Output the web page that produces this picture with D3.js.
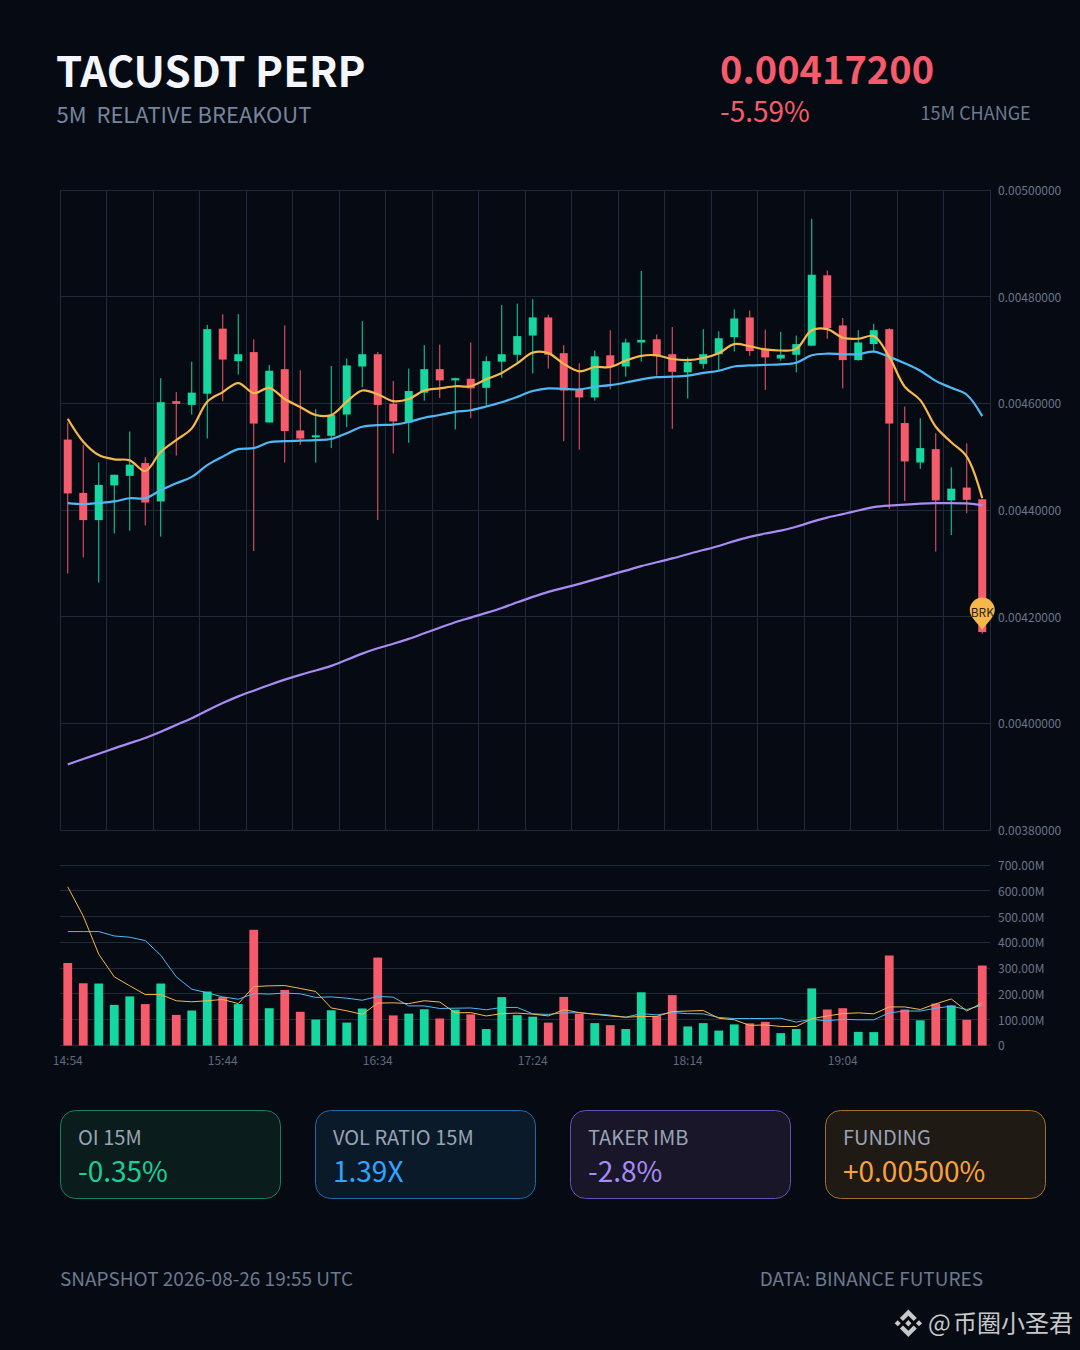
<!DOCTYPE html>
<html lang="zh">
<head>
<meta charset="utf-8">
<title>TACUSDT PERP</title>
<script src="https://cdn.jsdelivr.net/npm/d3@7/dist/d3.min.js"></script>
<style>
html,body{margin:0;padding:0;background:#060a12;}
svg{display:block;}
text{font-family:"Noto Sans CJK SC","Noto Sans",sans-serif;}
</style>
</head>
<body>
<svg id="chart" width="1080" height="1350" viewBox="0 0 1080 1350"></svg>
<script>
// Prices are in units of 0.00001
const times = ["14:54","14:59","15:04","15:09","15:14","15:19","15:24","15:29","15:34","15:39",
"15:44","15:49","15:54","15:59","16:04","16:09","16:14","16:19","16:24","16:29",
"16:34","16:39","16:44","16:49","16:54","16:59","17:04","17:09","17:14","17:19",
"17:24","17:29","17:34","17:39","17:44","17:49","17:54","17:59","18:04","18:09",
"18:14","18:19","18:24","18:29","18:34","18:39","18:44","18:49","18:54","18:59",
"19:04","19:09","19:14","19:19","19:24","19:29","19:34","19:39","19:44","19:49"];
const timeLabels = ["14:54","15:44","16:34","17:24","18:14","19:04"];
const opens = [453.3,443.3,438.2,444.7,446.5,448.9,441.7,460.5,459.8,461.9,474.1,468.0,469.7,456.5,466.5,455.0,453.7,454.0,458.0,467.0,
469.3,460.0,456.5,462.1,466.5,464.4,464.7,463.0,467.9,469.2,472.8,476.2,469.5,462.6,461.2,469.1,467.0,471.5,472.1,469.3,
465.9,467.5,469.3,472.5,476.2,470.2,468.5,469.2,470.9,484.1,474.7,468.2,471.2,474.0,456.4,449.0,451.5,441.9,444.3,442.1];
const closes = [443.2,438.2,444.8,446.7,448.6,441.5,460.3,460.0,462.1,474.0,468.3,469.3,456.3,466.2,454.9,453.5,454.1,457.9,467.2,469.3,
459.8,456.7,462.4,466.5,464.4,464.8,462.9,468.0,469.3,472.7,476.2,469.2,462.5,461.2,468.9,466.9,471.5,472.0,469.0,466.0,
467.8,469.3,472.3,476.0,469.9,468.7,469.2,471.2,484.2,474.2,468.2,471.5,473.8,456.3,449.2,451.7,441.9,444.1,442.0,417.2];
const highs = [456.5,452.3,449.0,446.7,454.8,450.0,464.8,462.2,467.9,474.8,476.8,476.8,472.1,467.3,474.7,466.3,459.0,467.1,468.5,475.5,
469.7,464.3,466.6,471.0,471.1,464.9,471.5,468.9,478.5,478.8,479.6,476.7,471.0,467.6,470.0,473.8,472.2,484.9,473.0,474.4,
468.7,474.0,473.6,477.7,477.5,473.9,473.5,472.8,494.7,485.0,476.1,473.8,475.0,474.2,459.5,457.3,454.5,448.1,452.6,442.1];
const lows = [428.2,431.2,426.5,435.7,436.2,437.2,435.1,450.3,458.0,453.5,460.5,465.5,432.4,456.5,449.0,452.3,449.0,451.7,455.6,463.1,
438.2,450.7,452.7,460.6,461.1,455.2,457.3,459.6,464.9,467.6,465.7,466.6,453.0,451.4,460.6,462.7,465.1,467.9,465.3,455.3,
461.0,466.6,466.3,469.8,469.0,462.6,468.1,465.9,470.9,472.2,462.9,468.1,469.8,440.3,441.8,447.8,432.3,435.4,439.5,416.9];
const maFast = [457.2,452.9,450.4,449.6,449.4,447.4,451.0,453.2,455.4,460.4,462.2,463.9,462.0,463.0,460.9,459.4,457.9,457.9,460.4,462.5,
461.8,460.5,460.9,462.5,462.9,463.3,463.3,464.6,465.8,467.6,469.6,469.5,467.5,466.1,466.9,466.9,468.1,469.0,469.1,468.4,
468.2,468.6,469.5,471.2,470.8,470.2,470.0,470.3,473.8,474.0,472.4,472.2,472.7,468.8,463.2,460.7,455.7,452.8,450.1,442.3];
const maMid = [441.4,441.2,441.4,441.7,442.3,442.3,443.8,445.1,446.3,448.5,450.1,451.5,451.7,452.8,453.0,453.1,453.2,453.4,454.5,455.7,
456.0,456.1,456.6,457.4,457.9,458.5,458.8,459.5,460.3,461.3,462.4,462.9,462.8,462.7,463.2,463.5,464.0,464.6,465.0,465.1,
465.3,465.8,466.2,467.0,467.2,467.3,467.4,467.7,469.1,469.4,469.3,469.3,469.8,468.8,467.6,466.2,464.3,463.0,461.7,457.7];
const maSlow = [392.4,393.4,394.4,395.4,396.4,397.3,398.5,399.8,401.0,402.5,403.9,405.2,406.2,407.3,408.3,409.2,410.0,410.8,412.0,413.2,
414.2,415.0,415.9,417.0,418.0,419.1,419.9,420.8,421.7,422.8,423.8,424.8,425.5,426.2,427.1,427.9,428.7,429.6,430.3,431.0,
431.8,432.6,433.3,434.3,435.1,435.7,436.2,436.9,437.9,438.7,439.3,440.0,440.7,440.9,441.1,441.3,441.4,441.4,441.4,441.0];
const volumes = [321,242,241,158,191,161,241,119,136,210,189,161,450,145,216,131,101,137,89,144,
342,117,124,141,105,139,121,64,188,118,112,89,189,123,87,79,64,207,114,196,
74,87,58,82,86,92,48,64,222,140,145,53,52,350,140,98,163,156,100,311];
const volFast = [617,503,355,267,232,198,198,174,170,174,179,163,229,232,233,222,210,146,135,121,
165,166,163,174,169,127,128,115,124,126,122,115,139,128,121,115,110,113,113,132,
134,136,106,100,78,80,74,74,104,115,124,127,123,150,150,140,162,181,134,166];
const volSlow = [443,443,443,426,421,408,351,267,219,205,189,180,202,200,204,201,187,189,184,176,
191,188,154,154,144,145,146,139,148,148,123,121,127,127,123,118,110,124,119,128,
124,123,109,105,105,105,106,91,102,96,102,100,100,127,134,134,145,153,140,157];
const priceTicks = [380,400,420,440,460,480,500];
const volTicks = [0,100,200,300,400,500,600,700];
const cards = [
  {label:"OI 15M", value:"-0.35%", fill:"#0b1c1c", stroke:"#14805f", color:"#17d09a"},
  {label:"VOL RATIO 15M", value:"1.39X", fill:"#0a1a29", stroke:"#1f6aa3", color:"#2ea6ff"},
  {label:"TAKER IMB", value:"-2.8%", fill:"#181628", stroke:"#6a4fb3", color:"#a78bfa"},
  {label:"FUNDING", value:"+0.00500%", fill:"#1f1a14", stroke:"#a3702a", color:"#f9a23b"}
];

const RED="#f55b6b", GREEN="#15d8a0", GRID="#1f2a3a", AMBER="#f6b84a", SKY="#4fb9f7", VIOLET="#a98bf3";
const svg=d3.select("#chart");
svg.append("rect").attr("width",1080).attr("height",1350).attr("fill","#060a12");

const crisp=v=>Math.floor(v)+0.5;
const L=60,R=990;
const x=d3.scaleBand().domain(d3.range(times.length)).range([L,R]).padding(0);
const cx=i=>x(i)+x.bandwidth()/2;
const y=d3.scaleLinear().domain([380,500]).range([830.5,190.5]);
const yv=d3.scaleLinear().domain([0,700]).range([1045.5,865.5]);

// price grid
const g=svg.append("g");
const vLines=d3.range(0,times.length,3).map(i=>x(i)).concat([R]);
g.selectAll("line.v").data(vLines).join("line").attr("class","v")
 .attr("x1",d=>crisp(d)).attr("x2",d=>crisp(d)).attr("y1",crisp(y(500)-0.5)).attr("y2",crisp(y(380)-0.5))
 .attr("stroke",GRID);
const axisP=d3.axisRight(y).tickValues(priceTicks).tickSize(0).tickPadding(8)
 .tickFormat(d=>(d*1e-5).toFixed(8));
const pa=svg.append("g").attr("transform",`translate(${R},0)`).call(axisP);
pa.select(".domain").remove();
pa.selectAll("text").attr("fill","#69758a").attr("font-size",12);
g.selectAll("line.h").data(priceTicks).join("line").attr("class","h")
 .attr("x1",L).attr("x2",R+1).attr("y1",d=>crisp(y(d)-0.5)).attr("y2",d=>crisp(y(d)-0.5)).attr("stroke",GRID);

// candles
const idx=d3.range(times.length);
const candle=svg.append("g");
const col=i=>closes[i]>=opens[i]?GREEN:RED;
candle.selectAll("line").data(idx).join("line")
 .attr("x1",cx).attr("x2",cx).attr("y1",i=>y(highs[i])).attr("y2",i=>y(lows[i]))
 .attr("stroke",col).attr("stroke-width",1);
candle.selectAll("rect").data(idx).join("rect")
 .attr("x",i=>cx(i)-4).attr("width",8)
 .attr("y",i=>y(Math.max(opens[i],closes[i])))
 .attr("height",i=>Math.max(2,Math.abs(y(opens[i])-y(closes[i]))))
 .attr("fill",col);

// moving averages
const lineP=d3.line().x((d,i)=>cx(i)).y(d=>y(d)).curve(d3.curveCatmullRom.alpha(0.5));
const lineS=d3.line().x((d,i)=>cx(i)).y(d=>y(d)).curve(d3.curveBasis);
[[maSlow,VIOLET,lineS],[maMid,SKY,lineP],[maFast,AMBER,lineP]].forEach(([s,c,l])=>{
  svg.append("path").attr("d",l(s)).attr("fill","none").attr("stroke",c).attr("stroke-width",2.2);
});

// breakout pin
const px=cx(59), py=y(lows[59])-3.7;
const pin=svg.append("g").attr("transform",`translate(${px},${py})`);
pin.append("path").attr("fill",AMBER)
 .attr("d","M0,0C-3,-6 -12.5,-12 -12.5,-20A12.5,12.5 0 1 1 12.5,-20C12.5,-12 3,-6 0,0Z");
pin.append("text").attr("y",-13.5).attr("text-anchor","middle").attr("font-size",12).attr("fill","#2a2418").text("BRK");

// volume grid & axis
const vg=svg.append("g");
vg.selectAll("line").data(volTicks).join("line")
 .attr("x1",L).attr("x2",R).attr("y1",d=>crisp(yv(d)-0.3)).attr("y2",d=>crisp(yv(d)-0.3)).attr("stroke",GRID);
const axisV=d3.axisRight(yv).tickValues(volTicks).tickSize(0).tickPadding(8)
 .tickFormat(d=>d===0?"0":d.toFixed(2)+"M");
const va=svg.append("g").attr("transform",`translate(${R},0.5)`).call(axisV);
va.select(".domain").remove();
va.selectAll("text").attr("fill","#69758a").attr("font-size",12);

svg.append("g").selectAll("rect").data(idx).join("rect")
 .attr("x",i=>cx(i)-4.4).attr("width",8.8)
 .attr("y",i=>yv(volumes[i])).attr("height",i=>yv(0)-yv(volumes[i]))
 .attr("fill",col);
const lineV=d3.line().x((d,i)=>cx(i)).y(d=>yv(d));
[[volSlow,SKY],[volFast,AMBER]].forEach(([s,c])=>{
  svg.append("path").attr("d",lineV(s)).attr("fill","none").attr("stroke",c).attr("stroke-width",1);
});

// time axis
const axisT=d3.axisBottom(x).tickValues(timeLabels.map(t=>times.indexOf(t))).tickSize(0).tickPadding(11)
 .tickFormat(i=>times[i]);
const ta=svg.append("g").attr("transform","translate(0,1045.5)").call(axisT);
ta.select(".domain").remove();
ta.selectAll("text").attr("fill","#5f6b7e").attr("font-size",12);

// header
function label(t,xp,yp,size,fill,opts={}){
  const n=svg.append("text").attr("x",xp).attr("y",yp).attr("font-size",size).attr("fill",fill).attr("xml:space","preserve").style("white-space","pre").text(t);
  if(opts.weight)n.attr("font-weight",opts.weight);
  if(opts.anchor)n.attr("text-anchor",opts.anchor);
  return n;
}
label("TACUSDT PERP",56,87,42,"#f3f6fc",{weight:700});
label("5M  RELATIVE BREAKOUT",56.5,123,22,"#76859d");
label("0.00417200",720,84,38,RED,{weight:700});
label("-5.59%",720,122,28,RED);
label("15M CHANGE",920.5,120,18,"#6c7b91");

// cards
const cardX=d3.scalePoint().domain(d3.range(cards.length)).range([60,825]);
cards.forEach((c,i)=>{
  const X=cardX(i);
  svg.append("rect").attr("x",X+0.5).attr("y",1110.5).attr("width",220).attr("height",88).attr("rx",15)
   .attr("fill",c.fill).attr("stroke",c.stroke);
  label(c.label,X+18,1145,20,"#9aa3b5");
  label(c.value,X+18,1182,28,c.color);
});

// footer
label("SNAPSHOT 2026-08-26 19:55 UTC",60,1286,19,"#6c7a90");
label("DATA: BINANCE FUTURES",983,1286,19,"#6c7a90",{anchor:"end"});

// watermark
svg.append("path").attr("transform","translate(894.6,1309.5) scale(0.217)").attr("fill","#c6c8ca")
 .attr("d","M38.73 53.2l24.59-24.58 24.6 24.6 14.3-14.31L63.32 0 24.42 38.9zM0 63.31l14.3-14.31 14.31 14.31-14.31 14.3zM38.73 73.41L63.32 98l24.6-24.6 14.31 14.29-38.91 38.92-38.9-38.89-.02-.02zM98 63.31l14.3-14.3 14.31 14.3-14.31 14.31zM77.83 63.3L63.32 48.78 52.59 59.51l-1.24 1.23-2.54 2.54 14.51 14.5 14.51-14.47z");
label("@ 币圈小圣君",928,1332,24,"#c6c8ca").attr("word-spacing",-3);
</script>
</body>
</html>
